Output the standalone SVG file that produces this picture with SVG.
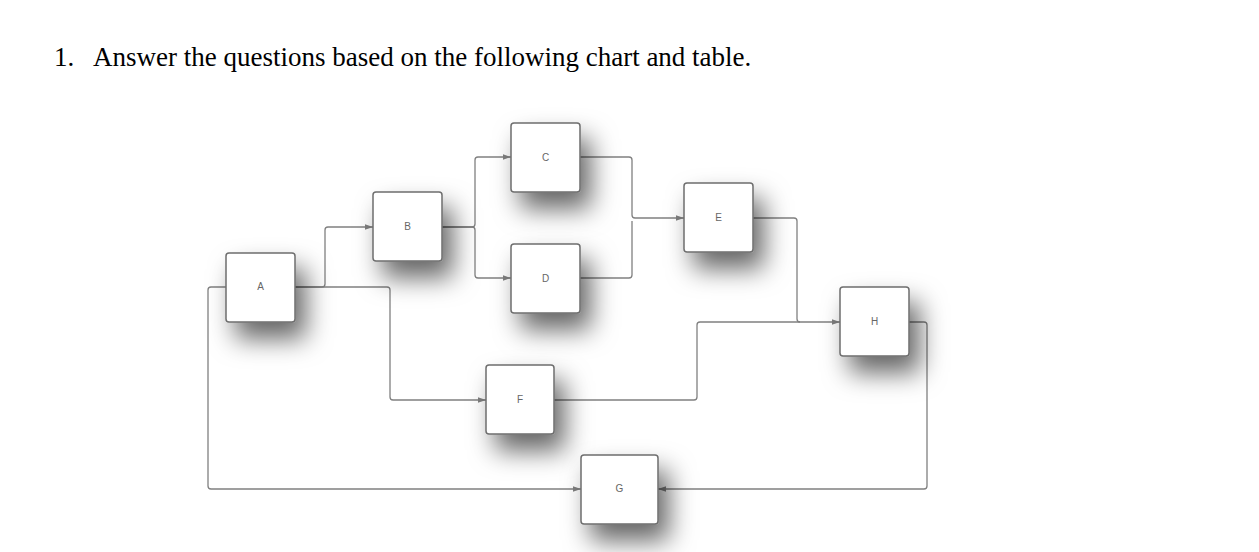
<svg xmlns="http://www.w3.org/2000/svg" width="1259" height="552" viewBox="0 0 1259 552">
<defs>
<filter id="sh" x="-80%" y="-80%" width="300%" height="300%"><feDropShadow dx="10" dy="16" stdDeviation="13" flood-color="#000" flood-opacity="0.6"/></filter>
<marker id="ar" viewBox="0 0 10 10" refX="10" refY="5" markerWidth="8" markerHeight="8" orient="auto" markerUnits="userSpaceOnUse"><path d="M0,1.5 L10,5 L0,8.5 Z" fill="#808080"/></marker>
<style>
.box{fill:#fff;stroke:#6e6e6e;stroke-width:1.5;filter:url(#sh)}
.lb{font-family:"Liberation Sans",Arial,sans-serif;font-size:10px;fill:#666;text-anchor:middle}
.c{fill:none;stroke:#808080;stroke-width:1.3;stroke-linejoin:round}
.t{font-family:"Liberation Serif","Times New Roman",serif;font-size:27px;fill:#000}
</style>
</defs>
<rect width="1259" height="552" fill="#fff"/>
<text class="t" x="54" y="66">1.</text>
<text class="t" x="93" y="66">Answer the questions based on the following chart and table.</text>
<g id="connectors">
<path class="c" d="M295,287 H322 Q325,287 325,284 V230 Q325,227 328,227 H373" marker-end="url(#ar)"/>
<path class="c" d="M295,287 H387 Q390,287 390,290 V397 Q390,400 393,400 H486" marker-end="url(#ar)"/>
<path class="c" d="M226,287 H211 Q208,287 208,290 V486 Q208,489 211,489 H581" marker-end="url(#ar)"/>
<path class="c" d="M442,227 H472 Q475,227 475,224 V160 Q475,157 478,157 H511" marker-end="url(#ar)"/>
<path class="c" d="M442,227 H472 Q475,227 475,230 V275 Q475,278 478,278 H511" marker-end="url(#ar)"/>
<path class="c" d="M580,157 H629 Q632,157 632,160 V215 Q632,218 635,218 H684" marker-end="url(#ar)"/>
<path class="c" d="M580,278 H629 Q632,278 632,275 V221"/>
<path class="c" d="M753,218 H794 Q797,218 797,221 V319 Q797,322 800,322 H840" marker-end="url(#ar)"/>
<path class="c" d="M554,400 H694 Q697,400 697,397 V325 Q697,322 700,322 H800"/>
<path class="c" d="M909,322 H924 Q927,322 927,325 V486 Q927,489 924,489 H658" marker-end="url(#ar)"/>
</g>
<g id="A"><rect class="box" x="226" y="253" width="69" height="69" rx="3"/><text class="lb" x="260.5" y="290">A</text></g>
<g id="B"><rect class="box" x="373" y="192" width="69" height="69" rx="3"/><text class="lb" x="407.5" y="230">B</text></g>
<g id="C"><rect class="box" x="511" y="123" width="69" height="69" rx="3"/><text class="lb" x="545.5" y="161">C</text></g>
<g id="D"><rect class="box" x="511" y="244" width="69" height="69" rx="3"/><text class="lb" x="545.5" y="282">D</text></g>
<g id="E"><rect class="box" x="684" y="183" width="69" height="69" rx="3"/><text class="lb" x="718.5" y="221">E</text></g>
<g id="F"><rect class="box" x="486" y="365" width="68" height="69" rx="3"/><text class="lb" x="520" y="403">F</text></g>
<g id="G"><rect class="box" x="581" y="455" width="77" height="69" rx="3"/><text class="lb" x="619.5" y="492">G</text></g>
<g id="H"><rect class="box" x="840" y="287" width="69" height="69" rx="3"/><text class="lb" x="874.5" y="325">H</text></g>
</svg>
